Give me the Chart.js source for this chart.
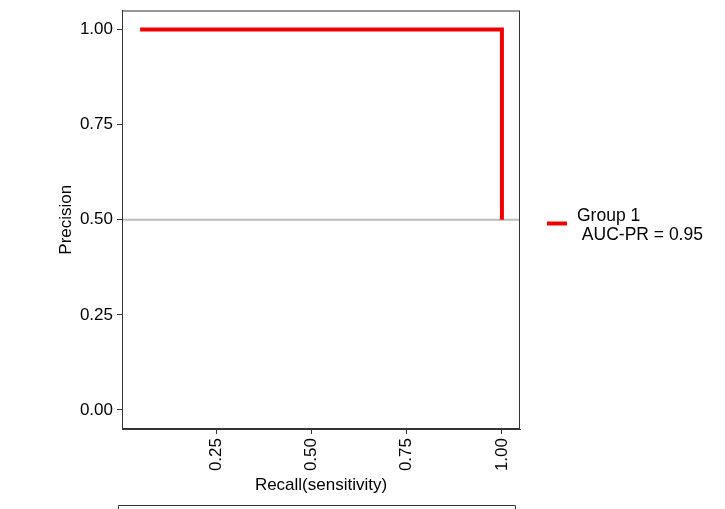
<!DOCTYPE html>
<html>
<head>
<meta charset="utf-8">
<script src="https://cdn.jsdelivr.net/npm/chart.js@4.4.0/dist/chart.umd.min.js"></script>
<style>
  html, body { margin: 0; padding: 0; background: #fff; }
  #wrap { width: 725px; height: 509px; }
</style>
</head>
<body>
<div id="wrap"><canvas id="pr-chart" width="725" height="509"></canvas></div>
<script>
// PR curve for one group
const recall = [0.05, 1.0, 1.0];
const precision = [1.0, 1.0, 0.5];
const baseline = 0.5; // share of positives
const xTicks = [0.25, 0.5, 0.75, 1.0];
const yTicks = [0, 0.25, 0.5, 0.75, 1.0];
const legendLabels = ['Group 1', ' AUC-PR = 0.95'];

const FONT = '"Liberation Sans", Arial, sans-serif';
const AXIS_COLOR = '#333333';

// grey baseline, frame, legend and the cut-off panel below
const extras = {
  id: 'extras',
  beforeDatasetsDraw(chart) {
    const { ctx, chartArea: a, scales: { y } } = chart;
    const py = y.getPixelForValue(baseline);
    ctx.save();
    ctx.strokeStyle = '#bdbdbd';
    ctx.lineWidth = 2;
    ctx.beginPath();
    ctx.moveTo(a.left, py);
    ctx.lineTo(a.right, py);
    ctx.stroke();
    ctx.restore();
  },
  afterDraw(chart) {
    const { ctx, chartArea: a } = chart;
    ctx.save();
    ctx.strokeStyle = AXIS_COLOR;
    ctx.lineWidth = 1;
    ctx.strokeRect(a.left + 0.5, a.top + 0.5, a.right - a.left - 1, a.bottom - a.top - 1);

    // legend
    ctx.strokeStyle = chart.data.datasets[0].borderColor;
    ctx.lineWidth = 4;
    ctx.beginPath();
    ctx.moveTo(547, 223.5);
    ctx.lineTo(567, 223.5);
    ctx.stroke();
    ctx.fillStyle = '#000';
    ctx.font = '17.5px ' + FONT;
    ctx.textBaseline = 'alphabetic';
    ctx.fillText(legendLabels[0], 577, 220.5);
    ctx.fillText(legendLabels[1], 577, 240);

    // top of the next panel
    ctx.strokeStyle = AXIS_COLOR;
    ctx.lineWidth = 1;
    ctx.beginPath();
    ctx.moveTo(118.5, 515);
    ctx.lineTo(118.5, 505.5);
    ctx.lineTo(515.5, 505.5);
    ctx.lineTo(515.5, 515);
    ctx.stroke();
    ctx.restore();
  }
};

const points = recall.map((r, i) => ({ x: r, y: precision[i] }));

new Chart(document.getElementById('pr-chart'), {
  type: 'scatter',
  data: {
    datasets: [{
      label: 'Group 1',
      data: points,
      showLine: true,
      borderColor: '#ee0000',
      borderWidth: 4,
      pointRadius: 0,
      fill: false,
      tension: 0
    }]
  },
  options: {
    responsive: false,
    animation: false,
    layout: { padding: { top: 10.5, right: 205, bottom: 0, left: 0 } },
    plugins: {
      legend: { display: false },
      tooltip: { enabled: false }
    },
    scales: {
      x: {
        type: 'linear',
        min: 0.0025,
        max: 1.0475,
        afterBuildTicks: (scale) => { scale.ticks = xTicks.map(v => ({ value: v })); },
        afterFit: (scale) => { scale.height = 80; scale.paddingLeft = 0; scale.paddingRight = 0; },
        ticks: {
          minRotation: 90,
          maxRotation: 90,
          padding: 4,
          color: '#000',
          font: { family: FONT, size: 17 },
          callback: (v) => v.toFixed(2)
        },
        grid: { drawOnChartArea: false, drawTicks: true, tickLength: 5, color: AXIS_COLOR },
        border: { display: true, color: AXIS_COLOR },
        title: {
          display: true,
          text: 'Recall(sensitivity)',
          color: '#000',
          font: { family: FONT, size: 17 },
          padding: { top: 0, bottom: 13 }
        }
      },
      y: {
        type: 'linear',
        min: -0.05,
        max: 1.05,
        afterBuildTicks: (scale) => { scale.ticks = yTicks.map(v => ({ value: v })); },
        afterFit: (scale) => { scale.width = 122; scale.paddingTop = 0; scale.paddingBottom = 0; },
        ticks: {
          padding: 4,
          color: '#000',
          font: { family: FONT, size: 17 },
          callback: (v) => v.toFixed(2)
        },
        grid: { drawOnChartArea: false, drawTicks: true, tickLength: 5, color: AXIS_COLOR },
        border: { display: true, color: AXIS_COLOR },
        title: {
          display: true,
          text: 'Precision',
          color: '#000',
          font: { family: FONT, size: 17 },
          padding: { top: 56, bottom: 0 }
        }
      }
    }
  },
  plugins: [extras]
});
</script>
</body>
</html>
